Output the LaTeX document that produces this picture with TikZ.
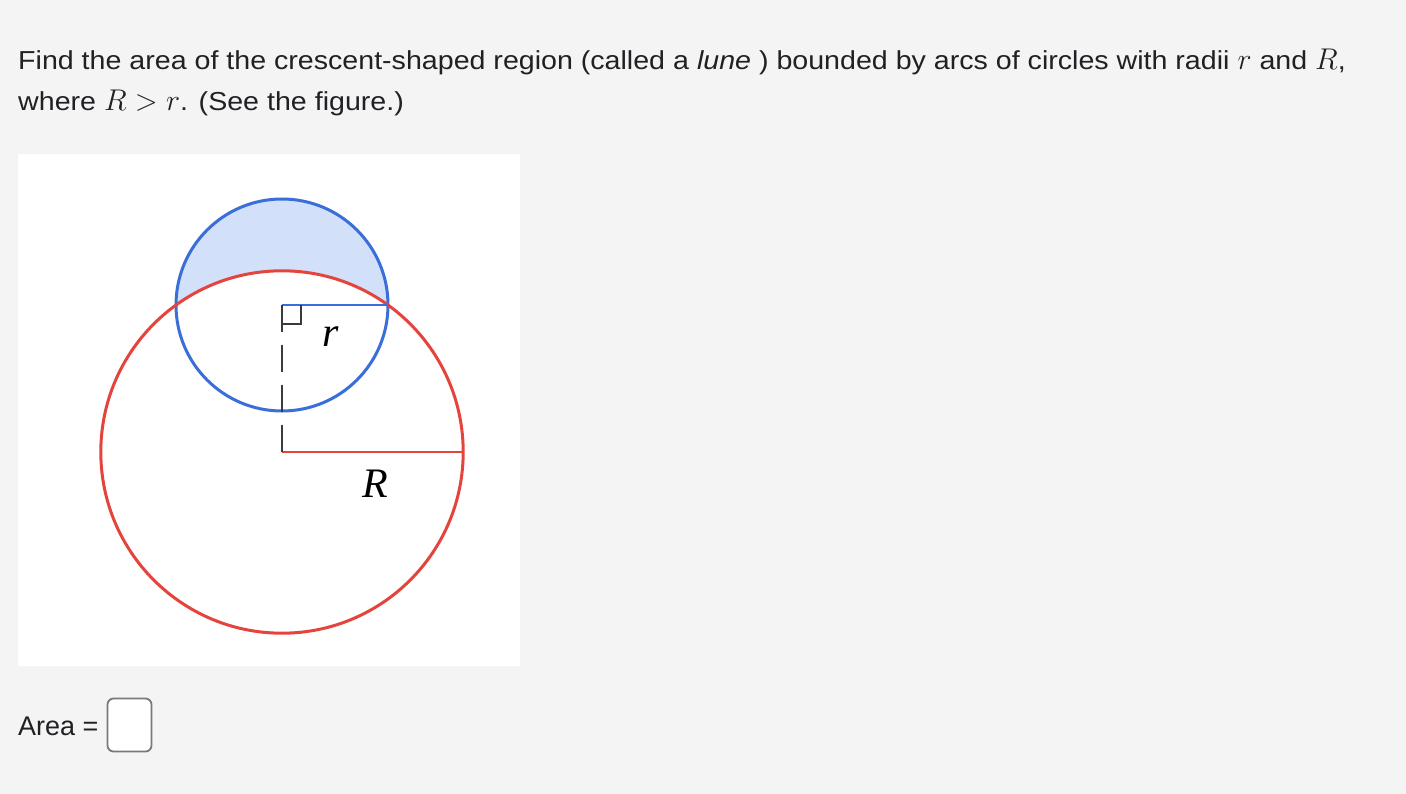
\RequirePackage{fix-cm}
\documentclass[tikz,border=0pt]{standalone}
\usepackage{fontspec}
\setmainfont{Liberation Sans}
\newfontfamily\bodyfont[FakeStretch=1.1]{Liberation Sans}
\newfontfamily\figserif{Liberation Serif}
\newcommand{\qmath}[1]{{\fontsize{30}{30}\selectfont$#1$}}
\definecolor{bg}{HTML}{F4F4F4}
\definecolor{txt}{HTML}{202124}
\definecolor{cblue}{HTML}{3A6ED8}
\definecolor{cred}{HTML}{E5443C}
\definecolor{lunefill}{HTML}{D2E0FA}
\definecolor{dline}{HTML}{3A3A3A}
\begin{document}
\begin{tikzpicture}[x=1pt,y=-1pt,
  bodytext/.style={anchor=base west, inner sep=0pt, text=txt, font=\bodyfont\fontsize{26}{30}\selectfont},
  figlabel/.style={inner sep=0pt, text=black, font=\figserif\itshape\fontsize{42}{42}\selectfont},
  blueline/.style={draw=cblue, line width=3pt},
  redline/.style={draw=cred, line width=3pt},
  darkline/.style={draw=dline, line width=1.8pt}]
\fill[bg] (0,0) rectangle (1406,794);
\useasboundingbox (0,0) rectangle (1406,794);
% question text
\node[bodytext] (line1) at (18,69.5) {Find the area of the crescent-shaped region (called a \textit{lune} ) bounded by arcs of circles with radii \qmath{r} and \qmath{R},};
\node[bodytext] (line2) at (18,111) {where \qmath{R>r}. (See the figure.)};
% figure panel
\node[fill=white, inner sep=0pt, minimum width=502pt, minimum height=512pt, anchor=north west] (panel) at (18,154) {};
\coordinate (C) at (282,305);
\coordinate (O) at (282,452);
\coordinate (P) at (388,305);
\coordinate (Q) at (463.2,452);
% lune
\begin{scope}
  \clip (C) circle (106pt);
  \fill[lunefill, even odd rule] (C) circle (106pt) (O) circle (181.2pt);
\end{scope}
\draw[blueline] (C) circle (106pt);
\draw[redline] (O) circle (181.2pt);
\draw[blueline, line width=2.6pt] (C) -- (P);
\draw[redline, line width=2.6pt] (O) -- (Q);
\draw[darkline, dash pattern=on 27pt off 13pt] (C) -- (O);
\draw[darkline] (282,324) -- (301,324) -- (301,305);
\node[figlabel] (rlab) at (331,337) {r};
\node[figlabel] (Rlab) at (375,484) {R};
% answer
\node[anchor=base west, inner sep=0pt, text=txt, font=\fontsize{27}{30}\selectfont] (area) at (18,735) {Area =};
\node[draw=gray!95!black, fill=white, line width=1.8pt, rounded corners=6pt, minimum width=44pt, minimum height=53pt, inner sep=0pt] (box) at (129.5,725) {};
\end{tikzpicture}
\end{document}
